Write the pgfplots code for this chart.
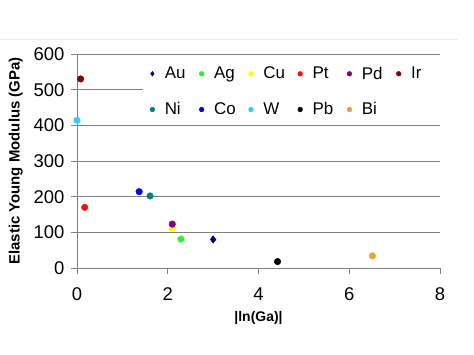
\documentclass[border=0pt]{standalone}
\usepackage{fontspec}
\setmainfont{Liberation Sans}
\usepackage{pgfplots}
\pgfplotsset{compat=1.18}
\definecolor{gridgray}{HTML}{808080}
\definecolor{cAu}{HTML}{000080}
\definecolor{cAg}{HTML}{33EE33}
\definecolor{cCu}{HTML}{FFFF00}
\definecolor{cPt}{HTML}{EE1111}
\definecolor{cPd}{HTML}{800080}
\definecolor{cIr}{HTML}{800000}
\definecolor{cNi}{HTML}{008080}
\definecolor{cCo}{HTML}{0000EE}
\definecolor{cW}{HTML}{33CCFF}
\definecolor{cPb}{HTML}{000000}
\definecolor{cBi}{HTML}{F0A030}
\newcommand{\legtxt}[1]{\makebox[25bp][l]{#1}}
\begin{document}
\begin{tikzpicture}
\path[use as bounding box] (0,0) rectangle (474bp,355bp);
\draw[black!8] (0,316bp) -- (458bp,316bp);
\begin{axis}[
  at={(77bp,87bp)}, anchor=south west,
  scale only axis, width=363bp, height=214bp,
  xmin=0, xmax=8, ymin=0, ymax=600,
  xtick={0,2,4,6,8}, ytick={0,100,...,600},
  axis x line*=bottom, axis y line*=left,
  axis line style={gridgray, line width=0.9pt, -},
  ymajorgrids, grid style={gridgray, line width=0.9pt},
  tick align=outside, major tick length=6bp,
  tick style={gridgray, line width=0.9pt},
  /pgf/number format/assume math mode=true,
  ticklabel style={font=\fontsize{18.5}{20}\selectfont},
  xticklabel style={yshift=-10bp},
  yticklabel style={xshift=-3bp},
  xlabel={\bfseries |ln(Ga)|},
  ylabel={\bfseries Elastic Young Modulus (GPa)},
  xlabel style={font=\fontsize{14}{16}\selectfont, yshift=-4bp},
  ylabel style={font=\fontsize{15}{17}\selectfont, yshift=4bp},
  legend columns=6,
  legend style={at={(axis cs:1.45,584)}, anchor=north west, draw=none, fill=white,
    font=\fontsize{17}{19}\selectfont, inner xsep=7bp, inner ysep=5bp,
    row sep=18bp,
    /tikz/every odd column/.append style={column sep=8bp},
    /tikz/every even column/.append style={column sep=7.5bp}},
  legend cell align=left,
  legend image post style={mark size=2.4pt},
  every axis plot/.append style={only marks, mark=*, mark size=3.3pt},
]
\addplot[cAu, mark=diamond*, mark size=3.8pt] coordinates {(3.00,80)};
\addlegendentry{\legtxt{Au}}
\addplot[cAg] coordinates {(2.29,81)};
\addlegendentry{\legtxt{Ag}}
\addplot[cCu] coordinates {(2.10,111)};
\addlegendentry{\legtxt{Cu}}
\addplot[cPt] coordinates {(0.17,170)};
\addlegendentry{\legtxt{Pt}}
\addplot[cPd] coordinates {(2.10,123)};
\addlegendentry{\legtxt{Pd}}
\addplot[cIr] coordinates {(0.08,530)};
\addlegendentry{\legtxt{Ir}}
\addplot[cNi] coordinates {(1.61,202)};
\addlegendentry{\legtxt{Ni}}
\addplot[cCo] coordinates {(1.37,214)};
\addlegendentry{\legtxt{Co}}
\addplot[cW] coordinates {(0.00,414)};
\addlegendentry{\legtxt{W}}
\addplot[cPb] coordinates {(4.42,18)};
\addlegendentry{\legtxt{Pb}}
\addplot[cBi] coordinates {(6.51,34)};
\addlegendentry{\legtxt{Bi}}
\draw[black!30, line width=0.9pt] (axis cs:8,0) -- (axis cs:8,600);
\end{axis}
\end{tikzpicture}
\end{document}
